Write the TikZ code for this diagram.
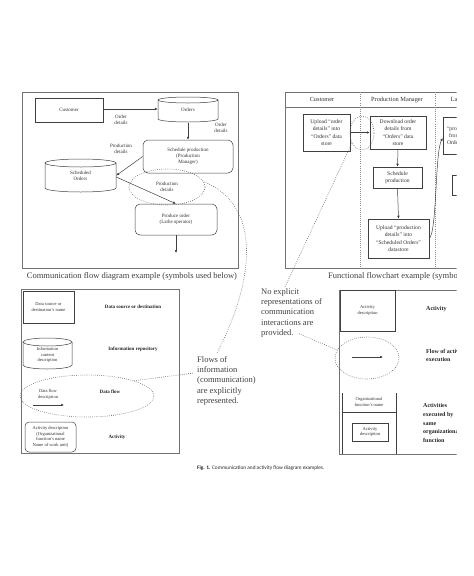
\documentclass[tikz,border=0pt]{standalone}
\usepackage{fontspec}
\setmainfont{Liberation Serif}
\newfontfamily\capfont{Carlito}
\usetikzlibrary{shapes.geometric,arrows.meta,calc}
\begin{document}
\begin{tikzpicture}[x=1pt,y=-1pt,
  ln/.style={draw=black!75,line width=0.5pt},
  frm/.style={draw=black!55,line width=0.6pt},
  arr/.style={ln,-{Latex[length=3pt,width=2.6pt]}},
  dots/.style={draw=black!60,line width=0.6pt,dash pattern=on 0.7pt off 1.4pt},
  tA/.style={font=\fontsize{5}{5.8}\selectfont,text=black!80,align=center,inner sep=0pt},
  tB/.style={font=\fontsize{5.6}{7.2}\selectfont,text=black!80,align=center,inner sep=0pt},
  tC/.style={font=\fontsize{4.5}{5.8}\selectfont,text=black!80,align=center,inner sep=0pt},
  lbl/.style={font=\bfseries\fontsize{5}{6}\selectfont,text=black!85,align=left,inner sep=0pt},
  lblR/.style={font=\bfseries\fontsize{6}{8.6}\selectfont,text=black!85,align=left,inner sep=0pt,anchor=west},
  note/.style={font=\fontsize{8.5}{10.4}\selectfont,text=black!75,align=left,inner sep=0pt},
  captxt/.style={font=\fontsize{8.5}{10}\selectfont,text=black!75,inner sep=0pt},
  sqbox/.style={ln,rectangle,inner sep=0pt},
  rbox/.style={ln,rectangle,rounded corners=5pt,inner sep=0pt},
  ell/.style={dots,ellipse,inner sep=0pt}
]
\useasboundingbox (0,0) rectangle (474,576);
\fill[white] (0,0) rectangle (474,576);
\clip (0,0) rectangle (456.5,576);

% ================= top-left: communication flow diagram =================
\draw[frm] (22,92) rectangle (238,268);
\node[sqbox,tA,minimum width=68,minimum height=24] (cust) at (69,110) {Customer};
% Orders cylinder
\draw[ln] (158,100) -- (158,119) arc[start angle=180,end angle=0,x radius=30,y radius=3] -- (218,100);
\draw[ln] (188,100) ellipse[x radius=30,y radius=3];
\node[tA,minimum width=60,minimum height=25] (orders) at (188,110) {Orders};
\node[rbox,tA,minimum width=90,minimum height=33] (sched) at (188,156.5) {Schedule production\\(Production\\Manager)};
% Scheduled Orders cylinder
\draw[ln] (45,163) -- (45,188) arc[start angle=180,end angle=0,x radius=35.5,y radius=4] -- (116,163);
\draw[ln] (80.5,163) ellipse[x radius=35.5,y radius=4];
\node[tA,minimum width=71,minimum height=33] (sorders) at (80.5,175.5) {Scheduled\\Orders};
\node[rbox,tA,minimum width=82,minimum height=31] (produce) at (176,219.5) {Produce order\\(Lathe operator)};
\coordinate (pend) at (176,253);
\node[ell,tA,minimum width=76,minimum height=36] (e1) at (167,187) {Production\\details};

\draw[arr] (cust.east |- 0,109) -- (orders.west |- 0,109);
\draw[arr] (orders.south) -- (sched.north);
\draw[arr] (sched.west) -- (sorders.east);
\draw[arr] (sorders.east) ++(0,1.5) -- (produce.north);
\draw[arr] (produce.south) -- (pend);
\node[tA] at (121,120) {Order\\details};
\node[tA] at (221,128) {Order\\details};
\node[tA] at (121,149) {Production\\details};

\node[captxt,anchor=base] (cap1) at (132,278.5) {Communication flow diagram example (symbols used below)};

% ================= top-right: functional flowchart =================
\draw[frm] (285,92) rectangle (500,268);
\draw[frm] (285,107) -- (500,107);
\draw[dots,draw=black!45] (360,92) -- (360,268);
\draw[dots,draw=black!45] (435,92) -- (435,268);
\node[tB,font=\fontsize{6.3}{7}\selectfont] (h1) at (322,99.5) {Customer};
\node[tB,font=\fontsize{6.3}{7}\selectfont] (h2) at (397,99.5) {Production Manager};
\node[tB,font=\fontsize{6.3}{7}\selectfont,anchor=west] (h3) at (450.5,99.5) {Lathe operator};

\node[sqbox,tB,minimum width=47,minimum height=37] (c2) at (326.5,132.5) {Upload ``order\\details'' into\\``Orders'' data\\store};
\node[sqbox,tB,minimum width=56,minimum height=33] (dl) at (398,132.5) {Download order\\details from\\``Orders'' data\\store};
\node[sqbox,tB,minimum width=49,minimum height=21] (sp) at (397.5,177.5) {Schedule\\production};
\node[sqbox,tB,minimum width=61,minimum height=39] (up) at (398.5,238.5) {Upload ``production\\details'' into\\``Scheduled Orders''\\datastore};
\node[sqbox,tB,minimum width=62,minimum height=37,text width=58,align=left] (lt) at (474,135.5) {\hspace*{2pt}``production details''\\\hspace*{4pt}from ``Scheduled\\\hspace*{2pt}Orders'' datastore};
\node[sqbox,minimum width=52,minimum height=20] (lt2) at (478,185) {};
\node[ell,minimum width=24,minimum height=34] (e2) at (362,133) {};

\draw[arr] (c2.east) -- (dl.west);
\draw[arr] (dl.south) -- (sp.north);
\draw[arr] (sp.south) -- (up.north);
\draw[arr] (up.east) .. controls (437,232) and (435,152) .. (lt.west |- 0,138);

\node[captxt,anchor=base west] (cap2) at (328,278.5) {Functional flowchart example (symbols used below)};

% ================= bottom-left: symbols =================
\draw[frm] (21,289) rectangle (179,453);
\node[sqbox,tC,minimum width=51,minimum height=32] (ds) at (48.5,307) {Data source or\\destination's name};
\draw[ln] (23,342) -- (23,365) arc[start angle=180,end angle=0,x radius=24.5,y radius=4] -- (72,342);
\draw[ln] (47.5,342) ellipse[x radius=24.5,y radius=4];
\node[tC,minimum width=49,minimum height=31] (info) at (47.5,355) {Information\\content\\description};
\node[ell,minimum width=134,minimum height=42] (e3) at (87,396) {};
\node[tC] (dfd) at (48,394) {Data flow\\description};
\coordinate (fa) at (33,405);
\coordinate (fb) at (64,405);
\draw[arr] (fa) -- (fb);
\node[rbox,tC,minimum width=51,minimum height=30,rounded corners=4pt] (act) at (50.5,437) {Activity description\\(Organizational\\function's name\\Name of work unit)};
\node[lbl] (l1) at (133,307) {Data source or destination};
\node[lbl] (l2) at (133,349) {Information repository};
\node[lbl] (l3) at (110,392) {Data flow};
\node[lbl] (l4) at (117,437) {Activity};

% ================= bottom-right: symbols =================
\draw[frm] (339,290) rectangle (500,454);
\node[sqbox,tC,minimum width=55,minimum height=41] (a2) at (367.5,310.5) {Activity\\description};
\node[ell,minimum width=64,minimum height=42] (e4) at (367,358) {};
\coordinate (ga) at (352,357);
\coordinate (gb) at (383,357);
\draw[arr] (ga) -- (gb);
\draw[ln] (342,393) -- (342,454);
\draw[ln] (396,393) -- (396,454);
\draw[ln] (342,412) -- (396,412);
\node[tC] (org) at (369,402) {Organizational\\function's name};
\node[sqbox,tC,minimum width=36,minimum height=18] (a3) at (370,432) {Activity\\description};
\node[lblR] (r1) at (426,309) {Activity};
\node[lblR] (r2) at (426,355.5) {Flow of activity\\execution};
\node[lblR] (r3) at (423,423) {Activities\\executed by\\same\\organizational\\function};

% ================= annotations =================
\node[note,anchor=north west] (flows) at (197,356) {Flows of\\information\\(communication)\\are explicitly\\represented.};
\node[note,anchor=north west] (noexp) at (261,288) {No explicit\\representations of\\communication\\interactions are\\provided.};
\draw[dots] (e1.8) .. controls (262,205) and (255,280) .. ($(flows.north west)+(20,-3)$);
\draw[dots] (e3.18) -- ($(flows.north west)+(-3,17)$);
\draw[dots] (e2.225) -- ($(noexp.north west)+(24,-1)$);
\draw[dots] ($(noexp.south west)+(38,-4)$) -- (e4.165);

% caption
\node[font=\capfont\fontsize{5.3}{6}\selectfont,text=black!85,anchor=base west,inner sep=0pt] (fig) at (197,469.5) {\textbf{Fig. 1.} Communication and activity flow diagram examples.};
\end{tikzpicture}
\end{document}
